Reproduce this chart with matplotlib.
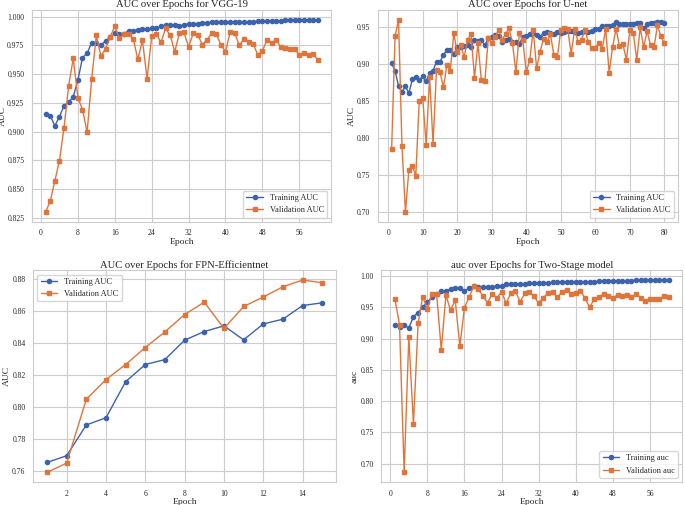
import matplotlib
matplotlib.use('Agg')
import matplotlib.pyplot as plt
import numpy as np
import seaborn as sns

sns.set_style('whitegrid')
plt.rcParams['font.family'] = ['Liberation Serif', 'DejaVu Serif']
plt.rcParams['font.size'] = 6

azul = '#3d63ae'
naranja = '#e0753c'

### VGG-19 (60 epochs) ###
vgg_train = [0.9157, 0.914, 0.905, 0.913, 0.9227, 0.9256, 0.9305, 0.9448, 0.9642, 0.9683,
             0.9773, 0.977, 0.9753, 0.979, 0.982, 0.9855, 0.9846, 0.985, 0.988, 0.988,
             0.9887, 0.9895, 0.9895, 0.990, 0.990, 0.9916, 0.9927, 0.993, 0.9924, 0.9916,
             0.993, 0.994, 0.994, 0.994, 0.9943, 0.9943, 0.995, 0.995, 0.995, 0.995,
             0.9952, 0.9952, 0.9955, 0.9955, 0.9957, 0.9958, 0.996, 0.996, 0.996, 0.9962,
             0.9964, 0.9966, 0.9968, 0.9968, 0.997, 0.9972, 0.9972, 0.9973, 0.9974, 0.9974]
vgg_val = [0.830, 0.8395, 0.857, 0.8747, 0.9035, 0.940, 0.9637, 0.9297, 0.9192, 0.8994,
           0.9462, 0.9837, 0.9657, 0.9721, 0.9826, 0.9916, 0.9811, 0.9846, 0.9852, 0.9808,
           0.9628, 0.9794, 0.9462, 0.9828, 0.9852, 0.9776, 0.9898, 0.984, 0.9695, 0.9855,
           0.9863, 0.9738, 0.9855, 0.984, 0.9758, 0.980, 0.9855, 0.9846, 0.9758, 0.9695,
           0.9863, 0.986, 0.975, 0.9808, 0.9776, 0.9765, 0.9669, 0.9703, 0.9797, 0.9773,
           0.980, 0.9733, 0.9724, 0.9718, 0.9718, 0.9669, 0.9683, 0.9663, 0.9677, 0.9625]

### U-net (80 epochs) ###
unet_train = [0.9005, 0.891, 0.870, 0.862, 0.870, 0.8605, 0.879, 0.8817, 0.8785, 0.883,
              0.8767, 0.888, 0.891, 0.9028, 0.9028, 0.9118, 0.919, 0.9185, 0.913, 0.9226,
              0.9226, 0.9235, 0.925, 0.9226, 0.932, 0.9307, 0.932, 0.925, 0.9347, 0.9365,
              0.9388, 0.9374, 0.930, 0.932, 0.934, 0.930, 0.929, 0.927, 0.9365, 0.9374,
              0.9397, 0.941, 0.9388, 0.9356, 0.942, 0.9428, 0.941, 0.9397, 0.9433, 0.942,
              0.9433, 0.944, 0.944, 0.9428, 0.942, 0.9433, 0.944, 0.9433, 0.944, 0.9464,
              0.9473, 0.9513, 0.9513, 0.9513, 0.952, 0.956, 0.954, 0.953, 0.954, 0.953,
              0.954, 0.955, 0.955, 0.948, 0.953, 0.955, 0.955, 0.957, 0.957, 0.955]
unet_val = [0.785, 0.937, 0.9594, 0.7895, 0.7005, 0.7576, 0.763, 0.7495, 0.8497, 0.8547,
            0.7913, 0.8826, 0.7922, 0.892, 0.889, 0.8686, 0.8983, 0.891, 0.941, 0.9154,
            0.925, 0.909, 0.9316, 0.9406, 0.8812, 0.9275, 0.8776, 0.8763, 0.9347, 0.928,
            0.9356, 0.946, 0.9325, 0.940, 0.9478, 0.928, 0.8884, 0.9415, 0.9316, 0.8888,
            0.9046, 0.9455, 0.8938, 0.9163, 0.9338, 0.9289, 0.9397, 0.9118, 0.9086, 0.946,
            0.9478, 0.947, 0.9136, 0.9464, 0.930, 0.9325, 0.946, 0.9289, 0.9217, 0.9217,
            0.928, 0.920, 0.9473, 0.888, 0.9226, 0.9473, 0.9235, 0.9262, 0.9055, 0.945,
            0.9415, 0.905, 0.949, 0.9226, 0.9437, 0.925, 0.9226, 0.9518, 0.937, 0.9275]

### FPN-Efficientnet (15 epochs) ###
fpn_train = [0.7656, 0.7698, 0.789, 0.7935, 0.816, 0.8267, 0.8298, 0.8419, 0.8473, 0.8508,
             0.8421, 0.852, 0.855, 0.8635, 0.8652]
fpn_val = [0.7594, 0.7652, 0.805, 0.8173, 0.8267, 0.8373, 0.8471, 0.8579, 0.8656, 0.8492,
           0.8629, 0.8688, 0.8752, 0.8794, 0.8777]

### Two-Stage (60 epochs) ###
ts_train = [0.9216, 0.919, 0.922, 0.9168, 0.935, 0.9414, 0.9504, 0.9584, 0.9664, 0.9717,
            0.9755, 0.9755, 0.9797, 0.9808, 0.9808, 0.9755, 0.9808, 0.9835, 0.983, 0.983,
            0.983, 0.982, 0.9845, 0.9845, 0.9867, 0.987, 0.9867, 0.987, 0.9875, 0.989,
            0.9893, 0.9893, 0.9893, 0.989, 0.9898, 0.99, 0.99, 0.99, 0.9903, 0.9905,
            0.9908, 0.991, 0.991, 0.9912, 0.9915, 0.9918, 0.992, 0.992, 0.9922, 0.9924,
            0.9926, 0.9928, 0.993, 0.993, 0.9932, 0.9932, 0.9934, 0.9934, 0.9936, 0.9936]
ts_val = [0.9637, 0.922, 0.686, 0.9025, 0.7633, 0.9243, 0.967, 0.9473, 0.9717, 0.9712,
          0.8817, 0.9696, 0.945, 0.962, 0.888, 0.9494, 0.9664, 0.9835, 0.979, 0.9675,
          0.9574, 0.9717, 0.9654, 0.9744, 0.9563, 0.9728, 0.9755, 0.959, 0.9723, 0.975,
          0.9675, 0.9563, 0.9654, 0.9728, 0.9739, 0.9664, 0.9739, 0.9781, 0.9707, 0.9723,
          0.9765, 0.9643, 0.950, 0.9637, 0.967, 0.9707, 0.9675, 0.9654, 0.9696, 0.9675,
          0.969, 0.966, 0.9717, 0.9654, 0.9606, 0.9637, 0.9637, 0.9627, 0.9685, 0.967]

paneles = [
    (vgg_train, vgg_val, 'AUC over Epochs for VGG-19', 'AUC', 'Training AUC', 'Validation AUC', 8, 'lower right', '%.3f'),
    (unet_train, unet_val, 'AUC over Epochs for U-net', 'AUC', 'Training AUC', 'Validation AUC', 10, 'lower right', '%.2f'),
    (fpn_train, fpn_val, 'AUC over Epochs for FPN-Efficientnet', 'AUC', 'Training AUC', 'Validation AUC', 2, 'upper left', '%.2f'),
    (ts_train, ts_val, 'auc over Epochs for Two-Stage model', 'auc', 'Training auc', 'Validation auc', 8, 'lower right', '%.2f'),
]

# posiciones de cada panel [left, bottom, width, height] en fraccion de figura
posiciones = [[0.0467, 0.561, 0.437, 0.419],
              [0.5518, 0.561, 0.438, 0.419],
              [0.0485, 0.0455, 0.442, 0.419],
              [0.5565, 0.0455, 0.4395, 0.419]]

fig, axs = plt.subplots(2, 2, figsize=(6.85, 5.05), dpi=100)
for ax, pos, (tr, va, titulo, ylab, l1, l2, paso, loc, fmt) in zip(axs.flat, posiciones, paneles):
    ax.set_position(pos)
    ep = np.arange(1, len(tr) + 1)
    ax.plot(ep, tr, marker='o', markersize=3, linewidth=1.0, color=azul, label=l1)
    ax.plot(ep, va, marker='s', markersize=3, linewidth=1.0, color=naranja, label=l2)
    ax.set_title(titulo, fontsize=7.7, pad=2)
    ax.set_xlabel('Epoch', fontsize=6.8, labelpad=0.5)
    ax.set_ylabel(ylab, fontsize=6.8, labelpad=1)
    ax.xaxis.set_major_locator(plt.MultipleLocator(paso))
    ax.yaxis.set_major_formatter(plt.FormatStrFormatter(fmt))
    ax.tick_params(axis='both', labelsize=5.5, pad=2)
    ax.legend(loc=loc, fontsize=6, frameon=True)
    for s in ax.spines.values():
        s.set_edgecolor('#cccccc')

# la etiqueta del primer panel queda pegada al borde
axs[0, 0].yaxis.set_label_coords(-0.085, 0.5)

plt.savefig('out.png', dpi=100)
